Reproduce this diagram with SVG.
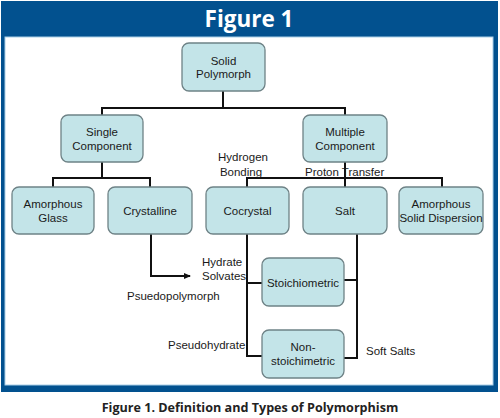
<svg xmlns="http://www.w3.org/2000/svg" width="500" height="418" viewBox="0 0 500 418">
<style>
.box{fill:#c3e4e8;stroke:#6e8286;stroke-width:1.3}
.t{font-family:"Liberation Sans",Arial,sans-serif;font-size:11.5px;fill:#1a1a1a;text-anchor:middle}
.l{font-family:"Liberation Sans",Arial,sans-serif;font-size:11.5px;fill:#1a1a1a}
.c{fill:none;stroke:#111;stroke-width:2}
</style>
<defs>
<marker id="ah" markerWidth="8" markerHeight="8" refX="6" refY="4" orient="auto" markerUnits="userSpaceOnUse">
<path d="M0,1 L7,4 L0,7 Z" fill="#111"/>
</marker>
</defs>
<rect x="0" y="0" width="500" height="418" fill="#fff"/>
<rect x="1" y="1" width="497" height="391" fill="#02518f"/>
<rect x="5" y="37" width="488" height="348" fill="#fff" stroke="#a9cfe8" stroke-width="1"/>
<text x="249" y="27" font-family="'Open Sans',sans-serif" font-weight="bold" font-size="22.5" fill="#fff" text-anchor="middle">Figure 1</text>
<text x="250" y="412" font-family="'Open Sans',sans-serif" font-weight="bold" font-size="12.6" fill="#222" text-anchor="middle">Figure 1. Definition and Types of Polymorphism</text>
<g id="connectors">
<path class="c" d="M223,91 V108 M102,115 V108 H345 V115"/>
<path class="c" d="M102,162 V178 M53,187 V178 H150 V187"/>
<path class="c" d="M345,162 V178 M247,187 V178 H442 V187 M345,178 V187"/>
<path class="c" d="M151,233 V276 H190" marker-end="url(#ah)"/>
<path class="c" d="M247,233 V356 H262 M247,283 H262"/>
<path class="c" d="M357,233 V358 H344 M344,280 H357"/>
</g>
<g id="solid-polymorph"><rect class="box" x="182" y="43" width="83" height="48" rx="7"/><text class="t" x="223.5" y="65">Solid</text><text class="t" x="223.5" y="78">Polymorph</text></g>
<g id="single-component"><rect class="box" x="61" y="115" width="82" height="47" rx="7"/><text class="t" x="102" y="136">Single</text><text class="t" x="102" y="150">Component</text></g>
<g id="multiple-component"><rect class="box" x="303" y="115" width="84" height="47" rx="7"/><text class="t" x="345" y="136">Multiple</text><text class="t" x="345" y="150">Component</text></g>
<g id="amorphous-glass"><rect class="box" x="12" y="187" width="82" height="47" rx="7"/><text class="t" x="53" y="208">Amorphous</text><text class="t" x="53" y="222">Glass</text></g>
<g id="crystalline"><rect class="box" x="108" y="187" width="84" height="47" rx="7"/><text class="t" x="150" y="215">Crystalline</text></g>
<g id="cocrystal"><rect class="box" x="206" y="187" width="83" height="47" rx="7"/><text class="t" x="247.5" y="215">Cocrystal</text></g>
<g id="salt"><rect class="box" x="303" y="187" width="84" height="47" rx="7"/><text class="t" x="345" y="215">Salt</text></g>
<g id="amorphous-solid-dispersion"><rect class="box" x="399" y="187" width="84" height="47" rx="7"/><text class="t" x="441" y="208">Amorphous</text><text class="t" x="441" y="222">Solid Dispersion</text></g>
<g id="stoichiometric"><rect class="box" x="262" y="258" width="82" height="48" rx="7"/><text class="t" x="303" y="287">Stoichiometric</text></g>
<g id="non-stoichiometric"><rect class="box" x="262" y="330" width="82" height="48" rx="7"/><text class="t" x="303" y="351">Non-</text><text class="t" x="303" y="365">stoichimetric</text></g>
<g id="labels">
<text class="t" x="243" y="161">Hydrogen</text>
<text class="t" x="241" y="176">Bonding</text>
<text class="l" x="305" y="176">Proton  Transfer</text>
<text class="l" x="202" y="266">Hydrate</text>
<text class="l" x="202" y="280">Solvates</text>
<text class="l" x="127" y="300">Psuedopolymorph</text>
<text class="l" x="168" y="349">Pseudohydrate</text>
<text class="l" x="366" y="355">Soft Salts</text>
</g>
</svg>
